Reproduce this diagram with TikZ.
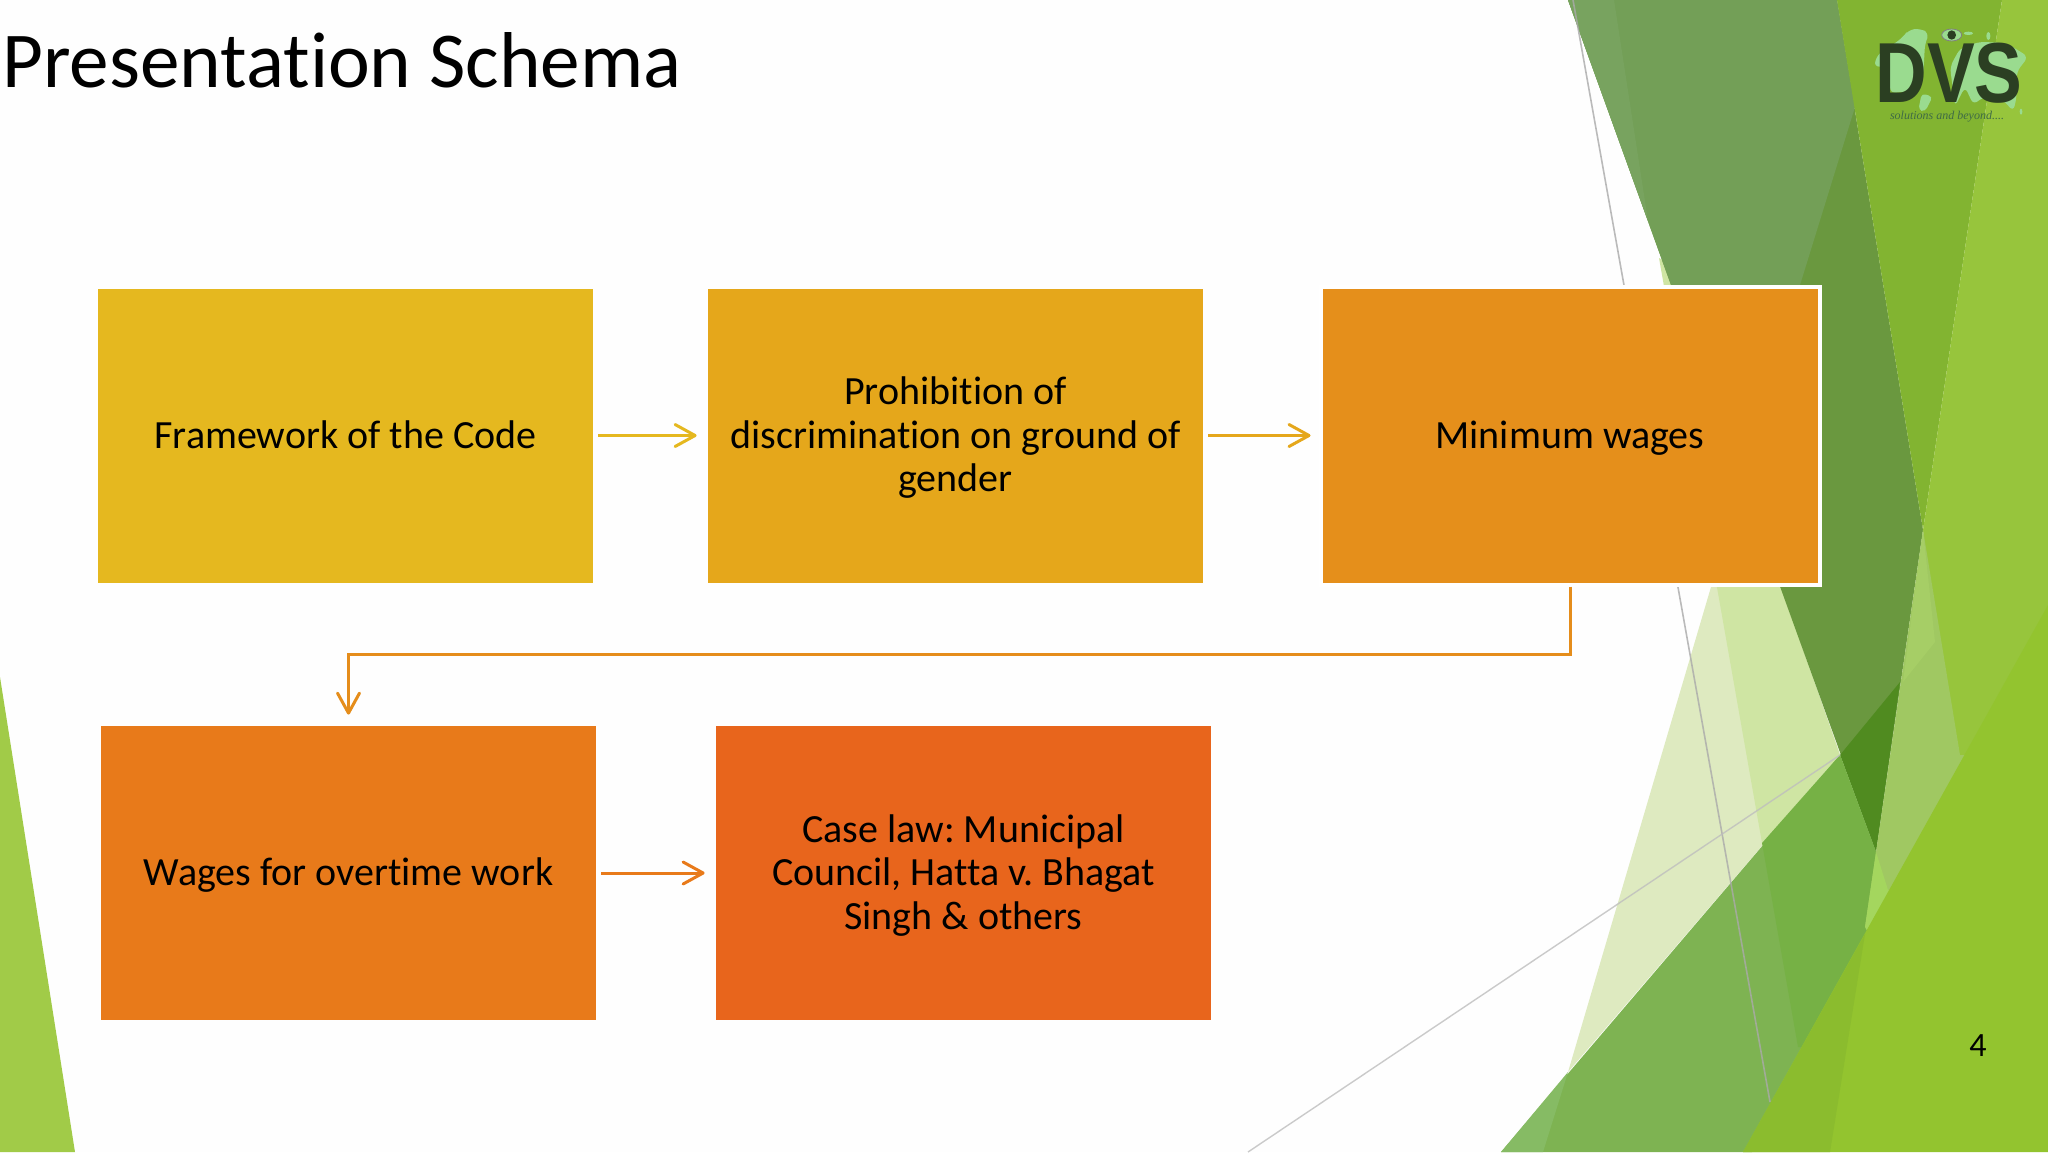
\documentclass[tikz,border=0pt]{standalone}
\usepackage{fontspec}
\setmainfont[Ligatures=NoCommon]{Carlito}
\newfontfamily\logofont{Liberation Sans}
\newfontfamily\logoserif{Liberation Serif}
\usetikzlibrary{arrows.meta,shapes.geometric}
\definecolor{cA}{HTML}{E5B81F}
\definecolor{cB}{HTML}{E5A71B}
\definecolor{cC}{HTML}{E58F1B}
\definecolor{cD}{HTML}{E87A1A}
\definecolor{cE}{HTML}{E8651C}
\definecolor{logodark}{HTML}{2B3F22}
\definecolor{logomap}{HTML}{9ADB8F}
\definecolor{pagebg}{HTML}{FEFEFE}
\newcommand{\boxstrut}{\vrule width 0pt height 17.3pt depth 4.55pt\relax}
\tikzset{
  flowbox/.style={rectangle,inner sep=0pt,align=center,text=black,font=\fontsize{20}{21.85}\selectfont},
  flowarrow/.style={line width=1.5pt,-{Straight Barb[length=10pt,width=11pt,round]}}
}
\frenchspacing
\begin{document}
\begin{tikzpicture}[x=0.5pt,y=-0.5pt]
\useasboundingbox (0,0) rectangle (2048,1152);
\fill[pagebg] (0,0) rectangle (2048,1152);
% left facet
\fill[fill={rgb,255:red,161;green,203;blue,72}] (0,677) -- (75,1152) -- (0,1152) -- cycle;
% pale facets
\fill[fill={rgb,255:red,222;green,234;blue,192}] (1800,285) -- (1568,1072) -- (1840,755) -- (1781,587) -- cycle;
\fill[fill={rgb,255:red,207;green,229;blue,163}] (1659,258) -- (1762,843) -- (1840,755) -- (1781,587) -- (1700,285) -- cycle;
% dark facets
\fill[fill={rgb,255:red,106;green,152;blue,63}] (1568,0) -- (1837,0) -- (1923,530) -- (1876,852) -- cycle;
\fill[fill={rgb,255:red,115;green,159;blue,87}] (1568,0) -- (1837,0) -- (1855,107) -- (1800,285) -- (1671,285) -- cycle;
\fill[fill={rgb,255:red,120;green,163;blue,95}] (1568,0) -- (1614,0) -- (1648,221) -- cycle;
\fill[fill={rgb,255:red,80;green,139;blue,32}] (1900,682) -- (1876,852) -- (1840,755) -- cycle;
% mid green and light right
\fill[fill={rgb,255:red,130;green,180;blue,49}] (1837,0) -- (2002,0) -- (1923,530) -- cycle;
\fill[fill={rgb,255:red,151;green,197;blue,60}] (2002,0) -- (2048,0) -- (2048,640) -- (1975,770) -- (1945,770) -- (1923,530) -- cycle;
% large green
\fill[fill={rgb,255:red,126;green,179;blue,82}] (1840,755) -- (1876,852) -- (1873,927) -- (1752,1152) -- (1501,1152) -- cycle;
\fill[fill={rgb,255:red,118;green,177;blue,69}] (1840,755) -- (1876,852) -- (1873,927) -- (1808,1047) -- (1798,1047) -- (1762,843) -- cycle;
\fill[fill={rgb,255:red,134;green,187;blue,100}] (1501,1152) -- (1543,1152) -- (1568,1072) -- cycle;
% pale lime pieces
\fill[fill={rgb,255:red,160;green,200;blue,98}] (1923,530) -- (1960,755) -- (1968,755) -- (1896,890) -- (1865,927) -- (1876,852) -- cycle;
\fill[fill={rgb,255:red,166;green,206;blue,102}] (1923,530) -- (1935,642) -- (1903,682) -- cycle;
\fill[fill={rgb,255:red,164;green,214;blue,94}] (1876,852) -- (1888,890) -- (1896,890) -- (1872,940) -- (1865,927) -- cycle;
% lime
\fill[fill={rgb,255:red,147;green,196;blue,47}] (2048,605) -- (2048,1152) -- (1743,1152) -- cycle;
\fill[fill={rgb,255:red,139;green,188;blue,46}] (1743,1152) -- (1830,1152) -- (1865,934) -- cycle;
% thin grey lines
\draw[line width=.8pt,draw={rgb,255:red,170;green,170;blue,170},opacity=.8] (1573,0) -- (1770,1102);
\draw[line width=.7pt,draw={rgb,255:red,190;green,190;blue,190},opacity=.8] (1840,755) -- (1248,1152);
% logo
\begin{scope}[shift={(1840,0)},x=0.16667pt,y=-0.16667pt]
\fill[logomap,rounded corners=3pt] (100,200) -- (115,160) -- (165,130) -- (190,110) -- (205,90) -- (240,85) -- (268,100) -- (255,130) -- (250,220) -- (235,270) -- (150,280) -- (150,200) -- cycle;
\fill[logomap,rounded corners=2pt] (245,280) -- (278,290) -- (255,335) -- (235,330) -- cycle;
\fill[logomap,rounded corners=3pt] (330,200) -- (360,145) -- (420,125) -- (500,130) -- (565,170) -- (530,215) -- (530,290) -- (520,335) -- (490,300) -- (430,290) -- (400,315) -- (375,260) -- (345,320) -- cycle;
\fill[logomap] (385,100) ellipse (14 and 5);
\fill[logomap] (445,108) ellipse (6 and 12);
\fill[logomap] (543,335) ellipse (4 and 9);
\node[ellipse,draw=gray,fill=logomap,minimum width=10pt,minimum height=6pt,inner sep=0pt,line width=.4pt] (eye) at (335,105) {};
\fill[logodark] (eye.center) ellipse (13 and 14);
\end{scope}
\node[text=logodark,inner sep=0pt,xscale=.84,font=\logofont\bfseries\fontsize{42.6}{42.6}\selectfont] (logo) at (1949,73.5) {DVS};
\node[text={rgb,255:red,63;green,107;blue,69},inner sep=0pt,font=\logoserif\itshape\fontsize{6}{7}\selectfont] (tagline) at (1947,117) {solutions and beyond....};
% title
\node[anchor=base west,inner sep=0pt,font=\fontsize{39.6}{44}\selectfont] (title) at (2,87) {Presentation Schema};
% page number
\node[inner sep=0pt,font=\fontsize{17}{20}\selectfont] (pagenum) at (1978,1046) {4};
% boxes
\node[flowbox,fill=cA,minimum width=247.5pt,minimum height=147pt] (b1) at (345.5,435.5) {\boxstrut Framework of the Code};
\node[flowbox,fill=cB,minimum width=247.5pt,minimum height=147pt] (b2) at (955.5,435.5) {\boxstrut Prohibition of\\discrimination on ground of\\\boxstrut gender};
\node[flowbox,fill=cC,draw=white,line width=2pt,minimum width=249.5pt,minimum height=149pt] (b3) at (1570,435.5) {\boxstrut Minimum wages};
\node[flowbox,fill=cD,minimum width=247.5pt,minimum height=147pt] (b4) at (348.5,873) {\boxstrut Wages for overtime work};
\node[flowbox,fill=cE,minimum width=247.5pt,minimum height=147pt] (b5) at (963.5,873) {\boxstrut Case law: Municipal\\Council, Hatta v. Bhagat\\\boxstrut Singh \& others};
% connectors
\coordinate (elbowA) at (1570,654);
\coordinate (elbowB) at (348.5,654);
\draw[flowarrow,draw=cA,shorten <=2.5pt,shorten >=5.5pt] (b1) -- (b2);
\draw[flowarrow,draw=cB,shorten <=2.5pt,shorten >=4pt] (b2) -- (b3);
\draw[flowarrow,draw=cD,shorten <=2.5pt,shorten >=5.5pt] (b4) -- (b5);
\draw[flowarrow,draw=cC!90!cD,shorten >=5.5pt] (b3.south) -- (elbowA) -- (elbowB) -- (b4.north);
\end{tikzpicture}
\end{document}
